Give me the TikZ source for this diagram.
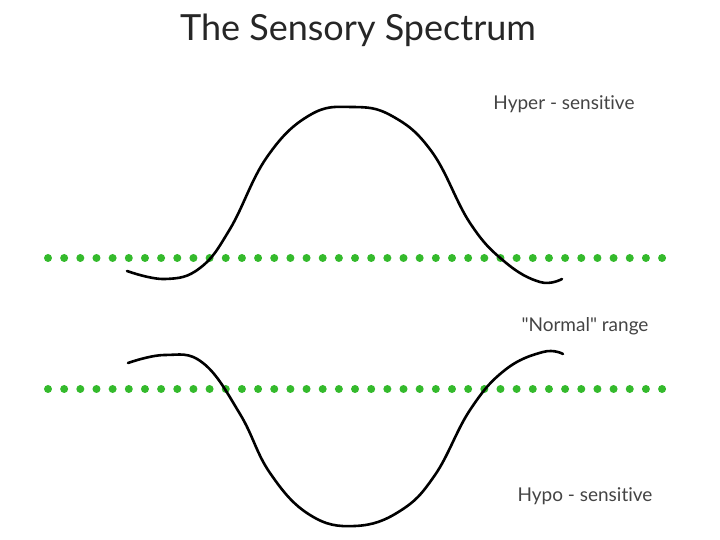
\documentclass[tikz,border=0pt]{standalone}
\usepackage{fontspec}
\setmainfont{Lato}[Ligatures={NoCommon,TeXOff}]
\usepackage{xcolor}
\definecolor{dotgreen}{RGB}{52,186,44}
\definecolor{textgray}{RGB}{68,68,68}

\begin{document}
\begin{tikzpicture}[x=0.5pt,y=-0.5pt,
  lbl/.style={font=\fontsize{9.5}{11}\selectfont,text=textgray},
  hdr/.style={font=\fontsize{18}{21}\selectfont,text=black!85},
  wave/.style={line width=1.3pt,line cap=round,line join=round},
  dot/.style={fill=dotgreen}]
\useasboundingbox (0,0) rectangle (720,540);
\node[hdr] (title) at (358,30) {The Sensory Spectrum};
\node[lbl] (hyper) at (564,104) {Hyper - sensitive};
\node[lbl] (normal) at (585,326) {"Normal" range};
\node[lbl] (hypo) at (585,496) {Hypo - sensitive};
% dotted limits of the normal range
\foreach \i in {0,...,38} {
  \fill[dot] (48+\i*16.16,258) circle (2pt);
  \fill[dot] (48+\i*16.16,389) circle (2pt);
}
% hyper curve
\draw[wave] plot[smooth,tension=0.7] coordinates {(127,271) (165,279) (200,268)
  (230,229) (267,157) (310,115) (352,107) (392,116) (432,152)
  (470,223) (505,262) (540,282) (562,279)};
% hypo curve
\draw[wave] plot[smooth,tension=0.7] coordinates {(128,363) (165,355) (203,363)
  (240,414) (270,473) (310,515) (355,526) (400,511) (435,475)
  (470,410) (505,370) (543,352) (563,354)};
\end{tikzpicture}
\end{document}
